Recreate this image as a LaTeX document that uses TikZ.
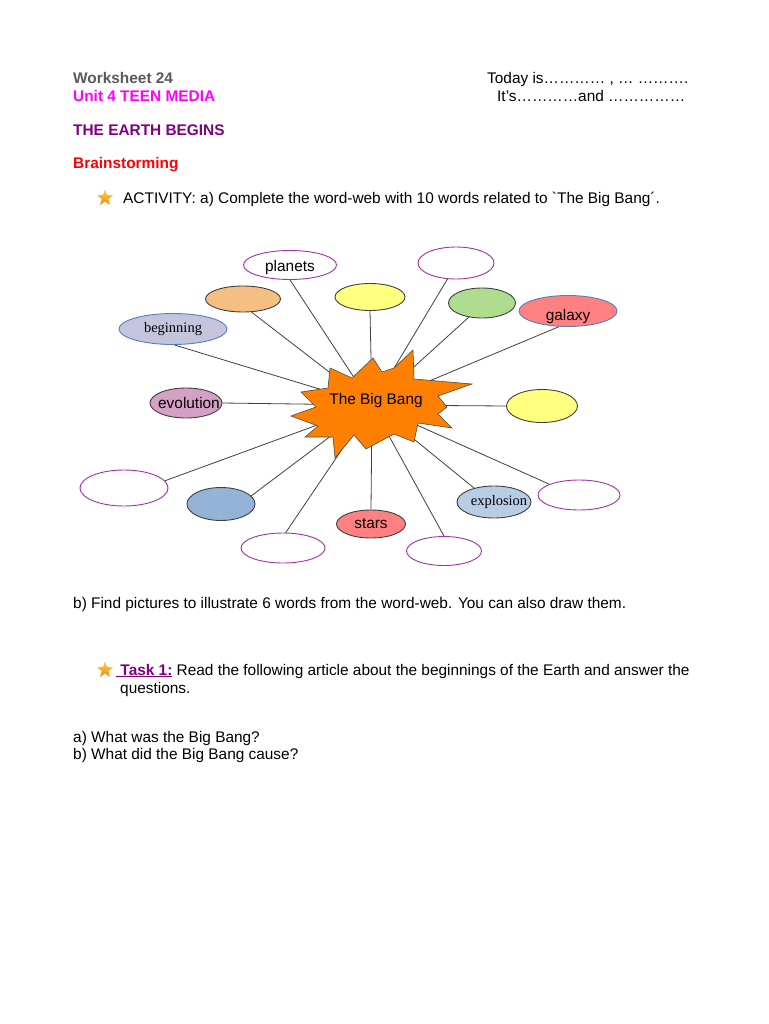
\documentclass[tikz,border=0pt]{standalone}
\usepackage{fontspec}
\setmainfont{Liberation Sans}
\newfontfamily\webserif{Liberation Serif}
\usetikzlibrary{shapes.geometric}
\definecolor{sheetGray}{RGB}{90,90,90}
\definecolor{unitMagenta}{RGB}{255,0,255}
\definecolor{titlePurple}{RGB}{128,0,128}
\definecolor{brainRed}{RGB}{255,0,0}
\definecolor{ringPurple}{RGB}{160,50,170}
\definecolor{ringBlue}{RGB}{79,129,189}
\definecolor{bangOrange}{RGB}{255,128,0}
\definecolor{iconYellow}{RGB}{255,205,60}
\definecolor{iconOrange}{RGB}{245,140,20}
\definecolor{webPeach}{RGB}{245,190,130}
\definecolor{webYellow}{RGB}{255,255,128}
\definecolor{webGreen}{RGB}{176,220,144}
\definecolor{webSalmon}{RGB}{255,128,128}
\definecolor{webLavender}{RGB}{196,196,220}
\definecolor{webMauve}{RGB}{212,160,196}
\definecolor{webSteel}{RGB}{149,179,215}
\definecolor{webSky}{RGB}{184,204,228}
\newcommand\sheetfont{\fontsize{15.4}{18}\selectfont}
\tikzset{
  txt/.style={anchor=base west, inner sep=0pt, font=\sheetfont},
  sz/.style 2 args={minimum width=#1pt, minimum height=#2pt},
  bubble/.style={ellipse, draw=black!75, line width=0.9pt, inner sep=0pt},
  blank/.style={bubble, draw=ringPurple, fill=white},
  spoke/.style={draw=black!75, line width=0.8pt},
  staricon/.style={star, star points=5, star point ratio=2.4, minimum size=17pt,
                   inner sep=0pt, top color=iconYellow, bottom color=iconOrange}
}

\begin{document}
\begin{tikzpicture}[x=1pt, y=-1pt,
    every label/.append style={inner sep=0pt, font=\sheetfont}
  ]
  \useasboundingbox[fill=white] (0,0) rectangle (768,1024);

  % header
  \node[txt, text=sheetGray, font=\sheetfont\bfseries] (sheet) at (73,84) {Worksheet 24};
  \node[txt, text=unitMagenta, font=\sheetfont\bfseries] (unit) at (73,102) {Unit 4 TEEN MEDIA};
  \node[txt] (today) at (487,84) {Today is…………\ , … ……….};
  \node[txt] (its) at (497,102) {It’s…………and ……………};
  \node[txt, text=titlePurple, font=\sheetfont\bfseries] (title) at (73,136) {THE EARTH BEGINS};
  \node[txt, text=brainRed, font=\sheetfont\bfseries] (brain) at (73,169) {Brainstorming};
  \node[staricon] (icon1) at (105,198) {};
  \node[txt] (activity) at (123,204) {ACTIVITY: a) Complete the word-web with 10 words related to {\addfontfeatures{Ligatures=TeXOff}\char"60}The Big Bang´.};

  % word-web
  \node[blank, sz={93}{29}, label={[yshift=-3pt]center:planets}] (planets) at (290,265) {};
  \node[blank, sz={76}{32}] (blankT) at (456,263) {};
  \node[bubble, fill=webPeach, sz={75}{26}] (peach) at (243,299) {};
  \node[bubble, fill=webYellow, sz={70}{27}] (yellowT) at (370,297) {};
  \node[bubble, fill=webGreen, sz={67}{30}] (green) at (482,303) {};
  \node[bubble, draw=ringBlue, fill=webSalmon, sz={98}{31},
        label={[yshift=-6pt]center:galaxy}] (galaxy) at (568,311) {};
  \node[bubble, draw=ringBlue, fill=webLavender, sz={108}{31},
        label={[font=\webserif\fontsize{14.5}{16}\selectfont]center:beginning}] (beginning) at (173,329) {};
  \node[bubble, fill=webMauve, sz={72}{30}, label={[xshift=3pt]center:evolution}] (evolution) at (186,403) {};
  \node[bubble, fill=webYellow, sz={71}{33}] (yellowR) at (542,406) {};
  \node[blank, sz={88}{36}] (blankL) at (124,488) {};
  \node[bubble, fill=webSteel, sz={68}{33}] (steel) at (221,504) {};
  \node[blank, sz={84}{30}] (blankB) at (283,548) {};
  \node[bubble, fill=webSalmon, sz={69}{28}, label=center:stars] (stars) at (371,524) {};
  \node[blank, sz={75}{29}] (blankBR) at (444,551) {};
  \node[bubble, fill=webSky, sz={74}{32},
        label={[xshift=5pt, font=\webserif\fontsize{14.5}{16}\selectfont]center:explosion}] (explosion) at (494,502) {};
  \node[blank, sz={82}{30}] (blankR) at (579,495) {};

  \coordinate (bangc) at (372,405);
  \foreach \a in {beginning.-85, peach.-57, planets.south, yellowT.south, blankT.-118,
                  green.-133, galaxy.-120, evolution.east, yellowR.west, blankL.10,
                  steel.15, blankB.80, stars.north, blankBR.north, explosion.145, blankR.160}
    \draw[spoke] (\a) -- (bangc);

  \draw[fill=bangOrange, draw=black!70, line width=0.6pt]
    (330,368) -- (352,378) -- (373,358) -- (382,372) -- (394,368) -- (413,350)
    -- (414,379) -- (472,384) -- (438,396) -- (447,407) -- (438,414) -- (452,428)
    -- (418,423) -- (414,442) -- (394,434) -- (366,449) -- (354,435) -- (335,458)
    -- (333,437) -- (305,437) -- (318,426) -- (291,416) -- (316,407) -- (301,392)
    -- (328,388) -- cycle;
  \node[font=\sheetfont, inner sep=0pt] (bang) at (376,401) {The Big Bang};

  % tasks
  \node[txt] (partb) at (73,608) {b) Find pictures to illustrate 6 words from the word-web. You can also draw them.};
  \node[staricon] (icon2) at (105,670) {};
  \node[txt] (task) at (116,675) {\textcolor{titlePurple}{\underline{\textbf{\ Task 1:}}} Read the following article about the beginnings of the Earth and answer the};
  \node[txt] (task2) at (120,693) {questions.};
  \node[txt] (qa) at (73,742) {a) What was the Big Bang?};
  \node[txt] (qb) at (73,759) {b) What did the Big Bang cause?};
\end{tikzpicture}
\end{document}
